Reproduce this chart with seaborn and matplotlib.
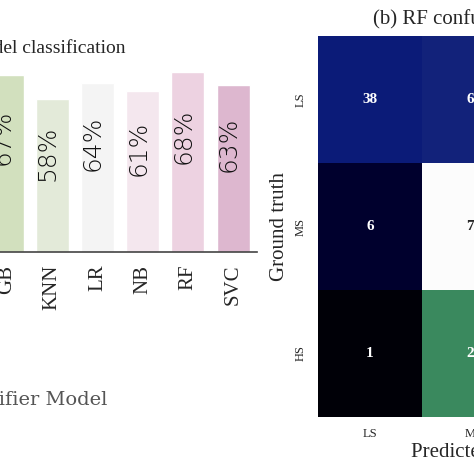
import matplotlib
matplotlib.use("Agg")
import matplotlib.pyplot as plt
import seaborn as sns
import numpy as np
import pandas as pd
from matplotlib.colors import LinearSegmentedColormap

models = ["GB", "KNN", "LR", "NB", "RF", "SVC"]
accuracy = [67, 58, 64, 61, 68, 63]
bar_colors = ["#d3e6b8", "#e4edd6", "#f4f4f4", "#f6e5ee", "#f1cee2", "#e3b1d0"]

classes = ["LS", "MS", "HS"]
cm_values = [[38, 62, 4],
             [6, 75, 9],
             [1, 29, 40]]

sns.set_style("white")
plt.rcParams["font.family"] = ["Liberation Serif", "DejaVu Sans"]

fig = plt.figure(figsize=(4.74, 4.74), dpi=100)

# ---- bar chart (left, cropped) ----
ax1 = fig.add_axes([-20/474, 1-252/474, 277/474, 238/474])
df = pd.DataFrame({"model": models, "acc": accuracy})
sns.barplot(data=df, x="model", y="acc", hue="model", palette=bar_colors,
            legend=False, width=0.73, ax=ax1)
ax1.set_xlim(-0.6, 5.53)
ax1.set_ylim(0, 90)
for i, v in enumerate(accuracy):
    ax1.text(i - 0.1, v*0.645, f"{v}%", rotation=90, ha="center", va="center",
             fontsize=18, family="DejaVu Sans", color="#111111",
             fontweight="light")
for s in ["top", "right", "left"]:
    ax1.spines[s].set_visible(False)
ax1.spines["bottom"].set_color("#444444")
ax1.spines["bottom"].set_linewidth(1.2)
ax1.set_yticks([])
ax1.set_ylabel("")
ax1.set_xlabel("")
ax1.tick_params(axis="x", length=0, pad=9, labelsize=15, rotation=90)
fig.text(125/474, 1-48/474, "(a) Accuracy of model classification",
         ha="right", va="center", fontsize=14)
fig.text(107/474, 1-400/474, "Classifier Model", ha="right", va="center",
         fontsize=14, family="DejaVu Serif", color="#555555")

# ---- confusion matrix (right, cropped) ----
ax2 = fig.add_axes([318/474, 1-417/474, 312/474, 381/474])
cmap = LinearSegmentedColormap.from_list(
    "cm", [(0.0, "#000000"), (6/75, "#00002e"), (29/75, "#3a8a5e"),
           (38/75, "#0b1a78"), (65/75, "#13237a"), (1.0, "#fcfcfc")])
sns.heatmap(pd.DataFrame(cm_values, index=classes, columns=classes),
            annot=True, fmt="d", cmap=cmap, vmin=0, vmax=75, cbar=False,
            annot_kws={"fontsize": 11, "fontweight": "bold"}, ax=ax2)
ax2.tick_params(axis="both", length=0, labelsize=9, pad=8)
ax2.set_yticklabels(classes, rotation=90, va="center")
ax2.set_ylabel("Ground truth", fontsize=15)
ax2.set_xlabel("Predicted label", fontsize=15, labelpad=2)
ax2.set_title("(b) RF confusion matrix", fontsize=15, pad=8)

fig.savefig("out.png", dpi=100)
